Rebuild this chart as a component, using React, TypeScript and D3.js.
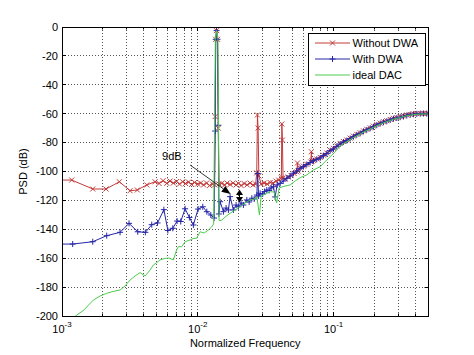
import React from 'react';
import * as d3 from 'd3';

const W = 474;
const H = 355;

// axis ticks
const yTicks = [0, -20, -40, -60, -80, -100, -120, -140, -160, -180, -200];
const xMajorExps = [-3, -2, -1];
const xDecades = [1e-3, 1e-2, 1e-1];

// series: Without DWA (red, x markers)
const redFreq = [
  0.00071, 0.001179, 0.001684, 0.00211, 0.002645, 0.003171, 0.003588, 0.00421, 0.004845, 0.005186,
  0.00555, 0.00591, 0.00625, 0.00661, 0.00698, 0.00734, 0.00773, 0.00813, 0.00855, 0.0090,
  0.00947, 0.00997, 0.01049, 0.01103, 0.01161, 0.01222, 0.01285, 0.0133,
  0.01342, 0.01355, 0.01374, 0.01397, 0.01416,
  0.01435, 0.01503, 0.01576, 0.01644, 0.0173, 0.0182, 0.01915, 0.01991, 0.02085, 0.02194,
  0.02309, 0.02429, 0.02556, 0.02667, 0.02717, 0.0275, 0.02782, 0.02815, 0.02927, 0.03081,
  0.03242, 0.03411, 0.03589, 0.03776, 0.0394, 0.04124, 0.04159, 0.042, 0.04245, 0.04399,
  0.04628, 0.0487, 0.05124, 0.05356, 0.0542, 0.05485, 0.05675, 0.06001, 0.06346, 0.06793,
  0.06862, 0.0693, 0.07111, 0.07519, 0.07965, 0.08424, 0.0891, 0.09438, 0.09984, 0.1056,
  0.1118, 0.1183, 0.1251, 0.1325, 0.1401, 0.1482, 0.157, 0.1661, 0.1756, 0.1861,
  0.1968, 0.2082, 0.2205, 0.2332, 0.2466, 0.2613, 0.2763, 0.2922, 0.3096, 0.3274,
  0.3463, 0.3668, 0.3879, 0.4103, 0.4347, 0.4597, 0.4862, 0.5,
];
const redDb = [
  -106.0, -105.9, -112.1, -112.1, -107.1, -113.3, -112.8, -109.3, -107.1, -108.3,
  -106.4, -108.2, -106.6, -108.0, -106.9, -108.7, -107.1, -108.3, -107.3, -109.0,
  -107.6, -108.7, -108.0, -109.3, -108.0, -109.7, -108.7, -109.3,
  -62, -8.5, -2.5, -8.5, -70,
  -108.7, -108.2, -109.3, -108.0, -109.0, -108.0, -109.3, -108.2, -109.7, -108.3,
  -109.3, -108.0, -109.3, -108.7, -101.0, -60.9, -69.9, -103.0, -108.7, -108.0,
  -108.7, -107.6, -108.0, -106.6, -105.9, -104.5, -67.1, -78.2, -104.5, -105.2,
  -103.8, -102.8, -101.4, -100.3, -94.1, -99.7, -97.6, -96.3, -95.0, -93.4,
  -86.3, -92.7, -92.3, -91.3, -90.2, -88.7, -87.2, -85.3, -84.0, -82.3,
  -80.6, -79.3, -78.2, -76.9, -75.5, -74.3, -73.2, -71.9, -70.8, -69.8,
  -68.6, -67.5, -66.5, -65.6, -64.9, -64.0, -63.2, -62.7, -62.1, -61.6,
  -60.9, -60.5, -60.1, -59.9, -59.8, -59.7, -59.8, -59.8,
];

// series: With DWA (blue, + markers)
const blueFreq = [
  0.00071, 0.001199, 0.001684, 0.002135, 0.002676, 0.003117, 0.003613, 0.00411, 0.00458, 0.005055,
  0.005625, 0.00602, 0.006545, 0.00704, 0.00749, 0.00806, 0.00867, 0.00928, 0.01005, 0.01088,
  0.01165, 0.01247, 0.01319,
  0.01342, 0.01355, 0.01374, 0.01397, 0.01416,
  0.0143, 0.0146, 0.01544, 0.01616, 0.01681, 0.0173, 0.01829, 0.01915, 0.01991, 0.02085,
  0.02168, 0.02297, 0.02388, 0.025, 0.026, 0.02722, 0.02759, 0.02805, 0.02878, 0.03003,
  0.03106, 0.03225, 0.03353, 0.03469, 0.03607, 0.03712, 0.03841, 0.04042, 0.04253, 0.04528,
  0.04788, 0.05063, 0.05346, 0.05675, 0.06001, 0.06346, 0.06724, 0.07111, 0.07519, 0.07965,
  0.08424, 0.0891, 0.09438, 0.09984, 0.1056, 0.1118, 0.1183, 0.1251, 0.1325, 0.1401,
  0.1482, 0.157, 0.1661, 0.1756, 0.1861, 0.1968, 0.2082, 0.2205, 0.2332, 0.2466,
  0.2613, 0.2763, 0.2922, 0.3096, 0.3274, 0.3463, 0.3668, 0.3879, 0.4103, 0.4347,
  0.4597, 0.4862, 0.5,
];
const blueDb = [
  -150.3, -150.2, -148.6, -144.4, -142.1, -135.9, -141.7, -142.1, -136.8, -135.6,
  -126.4, -140.8, -139.3, -134.3, -134.6, -125.8, -131.8, -137.0, -126.0, -124.4,
  -127.8, -130.1, -132.2,
  -72, -8.5, -2.5, -8.5, -68,
  -129.4, -120.9, -127.8, -125.3, -126.6, -117.4, -126.6, -123.2, -124.4, -121.8,
  -123.2, -119.7, -121.1, -118.5, -119.0, -116.3, -101.4, -117.0, -115.1, -115.6,
  -113.8, -112.8, -113.1, -111.4, -110.5, -117.6, -109.3, -108.2, -106.6, -104.7,
  -103.1, -101.2, -99.7, -97.8, -96.6, -95.2, -93.8, -92.6, -91.6, -90.6,
  -89.0, -87.6, -85.6, -84.4, -82.6, -81.0, -79.6, -78.6, -77.2, -75.9,
  -74.6, -73.6, -72.2, -71.2, -70.1, -69.0, -67.8, -66.8, -65.9, -65.2,
  -64.3, -63.5, -63.0, -62.4, -61.9, -61.2, -60.7, -60.4, -60.1, -60.0,
  -59.9, -60.0, -60.0,
];

// series: ideal DAC (green line)
const greenFreq = [
  0.00071, 0.001268, 0.001452, 0.001701, 0.001905, 0.002135, 0.002376, 0.002676, 0.002912, 0.003171,
  0.003451, 0.003757, 0.00409, 0.004452, 0.004708, 0.004987, 0.005274, 0.005741, 0.006145, 0.00661,
  0.00698, 0.007194, 0.00762, 0.00806, 0.008776, 0.009235, 0.00983, 0.0104, 0.01113, 0.01197,
  0.01264, 0.01308, 0.01346, 0.01374, 0.01407, 0.01435, 0.01503, 0.01589, 0.0173, 0.01883,
  0.0205, 0.02232, 0.02429, 0.026, 0.02722, 0.02844, 0.02927, 0.03132, 0.03411, 0.0365,
  0.03808, 0.03973, 0.04253, 0.04788, 0.05212, 0.05675, 0.06356, 0.07075, 0.07965, 0.0891,
  0.09984, 0.1118, 0.1251, 0.1401, 0.157, 0.1756, 0.1968, 0.2205, 0.2466, 0.2763,
  0.3096, 0.3463, 0.3879, 0.4347, 0.5,
];
const greenDb = [
  -221, -199.8, -195.8, -189.0, -186.2, -184.3, -183.0, -182.0, -179.2, -175.1,
  -172.3, -170.0, -172.3, -168.2, -164.7, -163.1, -161.2, -160.1, -159.9, -161.2,
  -154.3, -152.0, -152.0, -148.6, -147.4, -146.4, -146.2, -141.7, -142.6, -140.5,
  -138.4, -136.3, -8.5, -2.5, -8.5, -134.0, -133.6, -131.5, -128.9, -126.6,
  -124.4, -121.8, -119.7, -119.0, -117.4, -130.1, -117.0, -115.6, -114.0, -114.2,
  -121.8, -111.4, -110.4, -109.3, -106.6, -104.2, -102.4, -99.0, -96.7, -92.0,
  -87.5, -82.5, -79.3, -76.5, -74.0, -71.6, -69.4, -67.2, -65.5, -63.8,
  -62.6, -61.4, -60.6, -60.2, -60.2,
];

const legendLabels = ['Without DWA', 'With DWA', 'ideal DAC'];
const RED = '#c43a3a';
const BLUE = '#2626a8';
const GREEN = '#4ccc4c';

// annotation (data coordinates)
const noteText = '9dB';
const noteTextPos = [0.00546, -92.0];
const noteArrowFrom = [0.008776, -95.5];
const noteArrowTo = [0.01745, -115.6];
const dblArrowFreq = 0.0203;
const dblArrowDb = [-112.5, -121.5];

const FONT = '"Liberation Sans", Arial, Helvetica, sans-serif';

const zip = (a: number[], b: number[]) => a.map((v, i) => [v, b[i]] as [number, number]);

export default function App() {
  const x = d3.scaleLog().domain([1e-3, 0.5]).range([62, 428.5]);
  const y = d3.scaleLinear().domain([-200, 0]).range([316, 27]);
  const L = 62, R = 428.5, T = 27, B = 316;
  const crisp = (v: number) => Math.round(v - 0.5) + 0.5;

  const line = d3
    .line<[number, number]>()
    .x((d) => x(d[0]))
    .y((d) => y(d[1]));

  const red = zip(redFreq, redDb);
  const blue = zip(blueFreq, blueDb);
  const green = zip(greenFreq, greenDb);

  const xAll: number[] = [];
  xDecades.forEach((d) => {
    for (let k = 1; k <= 9; k++) {
      const v = k * d;
      if (v <= 0.5 + 1e-9) xAll.push(v);
    }
  });
  const isMajor = (v: number) => Math.abs(Math.log10(v) - Math.round(Math.log10(v))) < 1e-6;

  const xMark = 'M-2.5,-2.5L2.5,2.5M-2.5,2.5L2.5,-2.5';
  const plusMark = 'M-3,0H3M0,-3V3';

  // arrow geometry
  const ax0 = x(noteArrowFrom[0]), ay0 = y(noteArrowFrom[1]);
  const ax1 = x(noteArrowTo[0]), ay1 = y(noteArrowTo[1]);
  const ang = Math.atan2(ay1 - ay0, ax1 - ax0);
  const hl = 9, hw = 3.5;
  const bx = ax1 - hl * Math.cos(ang), by = ay1 - hl * Math.sin(ang);
  const px = -Math.sin(ang) * hw, py = Math.cos(ang) * hw;

  const dx = crisp(x(dblArrowFreq));
  const dTop = y(dblArrowDb[0]);
  const dBot = y(dblArrowDb[1]);

  return (
    <svg
      width={W}
      height={H}
      viewBox={`0 0 ${W} ${H}`}
      style={{ position: 'absolute', left: 0, top: 0, background: '#fff' }}
      fontFamily={FONT}
    >
      <defs>
        <clipPath id="plotclip">
          <rect x={L} y={T} width={R - L} height={B - T} />
        </clipPath>
      </defs>
      <rect x={0} y={0} width={W} height={H} fill="#fff" />

      {/* grid */}
      <g stroke="#555" strokeWidth={1} strokeDasharray="1 2">
        {yTicks
          .filter((t) => t !== 0 && t !== -200)
          .map((t) => (
            <line key={'gy' + t} x1={L} x2={R} y1={crisp(y(t))} y2={crisp(y(t))} />
          ))}
        {xAll
          .filter((v) => v > 1e-3 + 1e-9 && v < 0.5 - 1e-9)
          .map((v) => (
            <line key={'gx' + v} x1={crisp(x(v))} x2={crisp(x(v))} y1={T} y2={B} />
          ))}
      </g>

      {/* ticks */}
      <g stroke="#000" strokeWidth={1}>
        {yTicks.map((t) => (
          <g key={'ty' + t}>
            <line x1={L} x2={L + 4} y1={crisp(y(t))} y2={crisp(y(t))} />
            <line x1={R - 4} x2={R} y1={crisp(y(t))} y2={crisp(y(t))} />
          </g>
        ))}
        {xAll.map((v) => {
          const len = isMajor(v) ? 4 : 2.5;
          const xv = crisp(x(v));
          return (
            <g key={'tx' + v}>
              <line x1={xv} x2={xv} y1={B} y2={B - len} />
              <line x1={xv} x2={xv} y1={T} y2={T + len} />
            </g>
          );
        })}
      </g>

      {/* data */}
      <g clipPath="url(#plotclip)">
        <path d={line(red) || ''} fill="none" stroke={RED} strokeWidth={1} />
        <g stroke={RED} strokeWidth={1} fill="none">
          {red.map((d, i) => (
            <path key={'rm' + i} d={xMark} transform={`translate(${x(d[0])},${y(d[1])})`} />
          ))}
        </g>
        <path d={line(blue) || ''} fill="none" stroke={BLUE} strokeWidth={1} />
        <g stroke={BLUE} strokeWidth={1} fill="none">
          {blue.map((d, i) => (
            <path key={'bm' + i} d={plusMark} transform={`translate(${x(d[0])},${y(d[1])})`} />
          ))}
        </g>
        <path d={line(green) || ''} fill="none" stroke={GREEN} strokeWidth={1} />
      </g>

      {/* axes box */}
      <rect
        x={crisp(L)}
        y={crisp(T)}
        width={crisp(R) - crisp(L)}
        height={crisp(B) - crisp(T)}
        fill="none"
        stroke="#000"
        strokeWidth={1}
      />

      {/* y tick labels */}
      <g fontSize={11} fill="#000" textAnchor="end">
        {yTicks.map((t) => (
          <text key={'yl' + t} x={L - 4} y={y(t)} dy="0.35em">
            {t}
          </text>
        ))}
      </g>

      {/* x tick labels */}
      <g fill="#000" textAnchor="middle">
        {xMajorExps.map((e) => (
          <text key={'xl' + e} x={x(Math.pow(10, e))} y={332.5} fontSize={11}>
            <tspan>10</tspan>
            <tspan dy={-6} fontSize={8}>
              {e}
            </tspan>
          </text>
        ))}
      </g>

      {/* axis labels */}
      <text x={(L + R) / 2} y={346.5} fontSize={11} textAnchor="middle" fill="#000">
        Normalized Frequency
      </text>
      <text
        transform={`translate(26.5, ${(T + B) / 2}) rotate(-90)`}
        fontSize={11}
        textAnchor="middle"
        fill="#000"
      >
        PSD (dB)
      </text>

      {/* annotation */}
      <text x={x(noteTextPos[0])} y={y(noteTextPos[1])} fontSize={11} fill="#000">
        {noteText}
      </text>
      <line x1={ax0} y1={ay0} x2={bx} y2={by} stroke="#000" strokeWidth={0.8} />
      <polygon
        points={`${ax1},${ay1} ${bx + px},${by + py} ${bx - px},${by - py}`}
        fill="#000"
      />
      <line x1={dx} x2={dx} y1={dTop + 5} y2={dBot - 5} stroke="#000" strokeWidth={1} />
      <polygon points={`${dx},${dTop} ${dx - 3.5},${dTop + 5.5} ${dx + 3.5},${dTop + 5.5}`} fill="#000" />
      <polygon points={`${dx},${dBot} ${dx - 3.5},${dBot - 5.5} ${dx + 3.5},${dBot - 5.5}`} fill="#000" />

      {/* legend */}
      <g>
        <rect x={308.5} y={33.5} width={117} height={52} fill="#fff" stroke="#000" strokeWidth={1} />
        {legendLabels.map((lab, i) => {
          const ly = 43 + i * 16;
          const col = i === 0 ? RED : i === 1 ? BLUE : GREEN;
          return (
            <g key={lab}>
              <line x1={315} x2={350} y1={ly} y2={ly} stroke={col} strokeWidth={1} />
              {i === 0 && (
                <path d={xMark} transform={`translate(332.5,${ly})`} stroke={col} fill="none" />
              )}
              {i === 1 && (
                <path d={plusMark} transform={`translate(332.5,${ly})`} stroke={col} fill="none" />
              )}
              <text x={352.5} y={ly + 4} fontSize={11} fill="#000">
                {lab}
              </text>
            </g>
          );
        })}
      </g>
    </svg>
  );
}
